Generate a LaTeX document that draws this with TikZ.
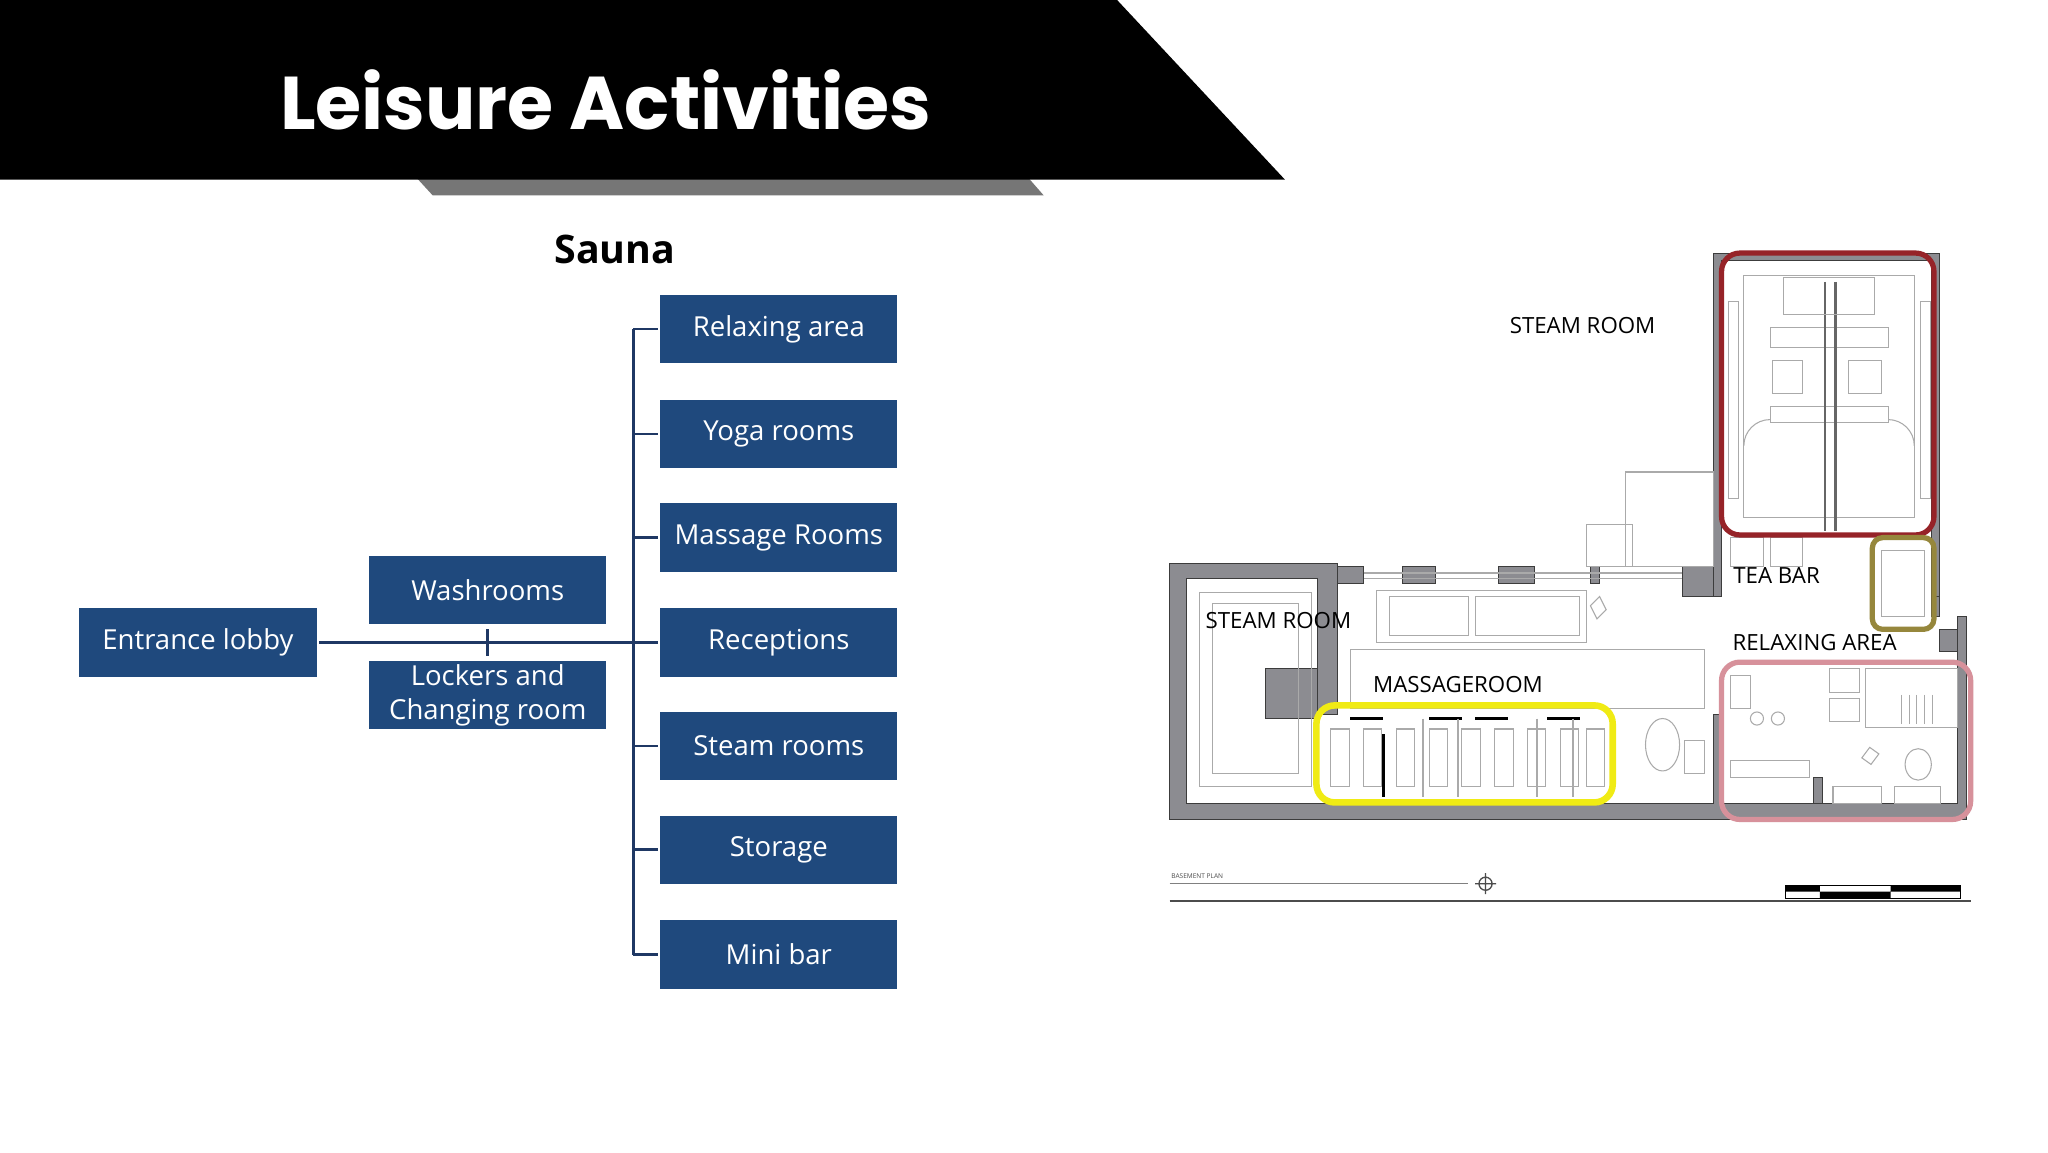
\documentclass[tikz,border=0pt]{standalone}
\usepackage{fontspec}
\setmainfont{Open Sans}
\newfontfamily\titlefont{Poppins}[BoldFont=* Bold]
\begin{document}
\begin{tikzpicture}[x=0.5pt,y=-0.5pt,
  box/.style={draw=white,line width=1pt,fill={rgb,255:red,31;green,73;blue,125},text=white,minimum width=91.5pt,minimum height=27pt,inner sep=1pt,font=\fontsize{10.5}{12}\selectfont,align=center},
  conn/.style={draw={rgb,255:red,31;green,56;blue,100},line width=1pt},
  wall/.style={fill={rgb,255:red,140;green,140;blue,145},draw={rgb,255:red,60;green,60;blue,60},line width=0.4pt},
  thin/.style={draw={rgb,255:red,170;green,170;blue,170},line width=0.4pt},
  lab/.style={font=\fontsize{8.5}{10}\selectfont,text=black,inner sep=0pt},
  hl/.style={rounded corners=7pt,line width=2pt}]
\useasboundingbox (0,0) rectangle (1562,879);
\fill[white] (0,0) rectangle (1562,879);
% banner
\fill[fill={rgb,255:red,118;green,118;blue,118}] (308,125)--(775,125)--(796,149)--(330,149)--cycle;
\fill[black] (0,0)--(852,0)--(980,137)--(0,137)--cycle;
\node[text=white,font=\titlefont\bfseries\fontsize{28.5}{32}\selectfont] (title) at (462,76) {Leisure Activities};
\node[font=\bfseries\fontsize{15}{18}\selectfont] (sauna) at (469,190) {Sauna};
% org chart
\node[box] (lobby) at (151,490) {Entrance lobby};
\node[box] (wash) at (372,450) {Washrooms};
\node[box,font=\fontsize{10.5}{13}\selectfont] (lock) at (372,530) {Lockers and\\Changing room};
\node[box] (r1) at (594,251) {Relaxing area};
\node[box] (r2) at (594,331) {Yoga rooms};
\node[box] (r3) at (594,410) {Massage Rooms};
\node[box] (r4) at (594,490) {Receptions};
\node[box] (r5) at (594,569) {Steam rooms};
\node[box] (r6) at (594,648) {Storage};
\node[box] (r7) at (594,728) {Mini bar};
\coordinate (bt) at (483,251);
\coordinate (bb) at (483,728);
\coordinate (mid) at (372,490);
\draw[conn] (lobby.east) -- (r4.west);
\draw[conn] (mid) ++(0,-10) -- ++(0,20);
\draw[conn] (bt) -- (bb);
\foreach \i in {1,...,7}{\draw[conn] (bt |- r\i.west) -- (r\i.west);}
% floor plan walls
\draw[wall] (892,430)--(1020,430)--(1020,545)--(1005,545)--(1005,441)--(905,441)--(905,613)--(1307,613)--(1307,545)--(1313,545)--(1313,613)--(1493,613)--(1493,470)--(1500,470)--(1500,625)--(892,625)--cycle;
\draw[wall] (1307,193)--(1479,193)--(1479,465)--(1473,465)--(1473,199)--(1313,199)--(1313,455)--(1307,455)--cycle;
\draw[wall] (1283,432)--(1307,432)--(1307,455)--(1283,455)--cycle;
\draw[wall] (1020,432) rectangle (1040,445);
\draw[wall] (1070,432) rectangle (1095,445);
\draw[wall] (1143,432) rectangle (1170,445);
\draw[wall] (1213,432) rectangle (1220,445);
\draw[wall] (965,510) rectangle (1005,548);
\draw[wall] (1479,480) rectangle (1493,497);
\draw[wall] (1383,593) rectangle (1390,613);
\draw[wall] (1473,455) rectangle (1479,470);
\draw[thin] (1040,437)--(1283,437) (1040,441)--(1283,441);
% interior details
\draw[thin] (915,452) rectangle (1000,600);
\draw[thin] (925,460) rectangle (990,590);
\draw[thin] (1050,450) rectangle (1210,490);
\draw[thin] (1060,455) rectangle (1120,485);
\draw[thin] (1125,455) rectangle (1205,485);
\draw[thin] (1030,495) rectangle (1300,540);
\draw[thin] (1240,360) rectangle (1307,432);
\draw[thin] (1210,400) rectangle (1245,432);
\draw[thin] (1268,568) ellipse (13 and 20);
\draw[thin] (1285,565) rectangle (1300,590);
\foreach \x in {1015,1040,1065,1090,1115,1140,1165,1190,1210}{\draw[thin] (\x,556) rectangle (\x+14,600);}
\foreach \x in {1030,1090,1125,1180}{\draw[black,line width=1.2pt] (\x,548)--(\x+25,548);}
\draw[black,line width=1.2pt] (1055,560)--(1055,608);
\foreach \x in {1085,1112,1172,1200}{\draw[thin,line width=0.8pt] (\x,548)--(\x,608);}
% steam room tower detail
\draw[thin] (1330,210) rectangle (1460,395);
\draw[thin] (1350,250) rectangle (1440,265);
\draw[thin] (1350,310) rectangle (1440,322);
\draw[thin] (1352,275) rectangle (1375,300);
\draw[thin] (1410,275) rectangle (1435,300);
\draw[black!60,line width=1pt] (1392,215)--(1392,405) (1400,215)--(1400,405);
\draw[thin] (1360,212) rectangle (1430,240);
\draw[thin] (1330,340) arc (180:270:20);
\draw[thin] (1460,340) arc (0:-90:20);
\draw[thin] (1318,230) rectangle (1326,380) (1465,230) rectangle (1472,380);
% tea bar and relaxing
\draw[thin] (1435,420) rectangle (1468,470);
\draw[thin] (1320,410) rectangle (1345,432);
\draw[thin] (1350,410) rectangle (1375,432);
\draw[thin] (1423,510) rectangle (1493,555);
\foreach \x in {1450,1456,...,1475}{\draw[thin] (\x,530)--(\x,552);}
\draw[thin] (1320,515) rectangle (1335,540);
\draw[thin] (1395,510) rectangle (1418,528);
\draw[thin] (1395,533) rectangle (1418,550);
\draw[thin] (1463,583) ellipse (10 and 12);
\draw[thin] (1320,580) rectangle (1380,593);
\draw[thin] (1398,600) rectangle (1435,613);
\draw[thin] (1445,600) rectangle (1480,613);
\draw[thin] (1340,548) circle (5) (1356,548) circle (5);
\draw[thin] (1427,583) -- (1433,575) -- (1426,570) -- (1420,578) -- cycle;
\draw[thin] (1225,465) -- (1220,455) -- (1213,462) -- (1218,472) -- cycle;
% highlights
\draw[hl,draw={rgb,255:red,150;green,35;blue,40}] (1313,193) rectangle (1475,408);
\draw[hl,draw={rgb,255:red,150;green,135;blue,60},rounded corners=4pt] (1428,410) rectangle (1475,480);
\draw[hl,draw={rgb,255:red,240;green,235;blue,20},line width=2.5pt] (1004,538) rectangle (1230,612);
\draw[hl,draw={rgb,255:red,215;green,145;blue,155}] (1313,505) rectangle (1503,625);
% labels
\node[lab] (l1) at (1207,248) {STEAM ROOM};
\node[lab] (l2) at (975,473) {STEAM ROOM};
\node[lab] (l3) at (1355,439) {TEA BAR};
\node[lab] (l4) at (1384,490) {RELAXING AREA};
\node[lab] (l5) at (1112,522) {MASSAGEROOM};
% footer
\draw[black!70,line width=0.6pt] (892,687)--(1503,687);
\draw[black!50,line width=0.4pt] (892,674)--(1120,674);
\node[lab,font=\fontsize{2.5}{3}\selectfont,text=black!70,anchor=west] (bp) at (893,668) {BASEMENT PLAN};
\draw[black!70,line width=0.5pt] (1133,674) circle (5) (1125,674)--(1141,674) (1133,666)--(1133,682);
\fill[black] (1362,675) rectangle (1388,680) (1388,680) rectangle (1442,685) (1442,675) rectangle (1495,680);
\draw[black,line width=0.4pt] (1362,675) rectangle (1495,685);
\end{tikzpicture}
\end{document}
